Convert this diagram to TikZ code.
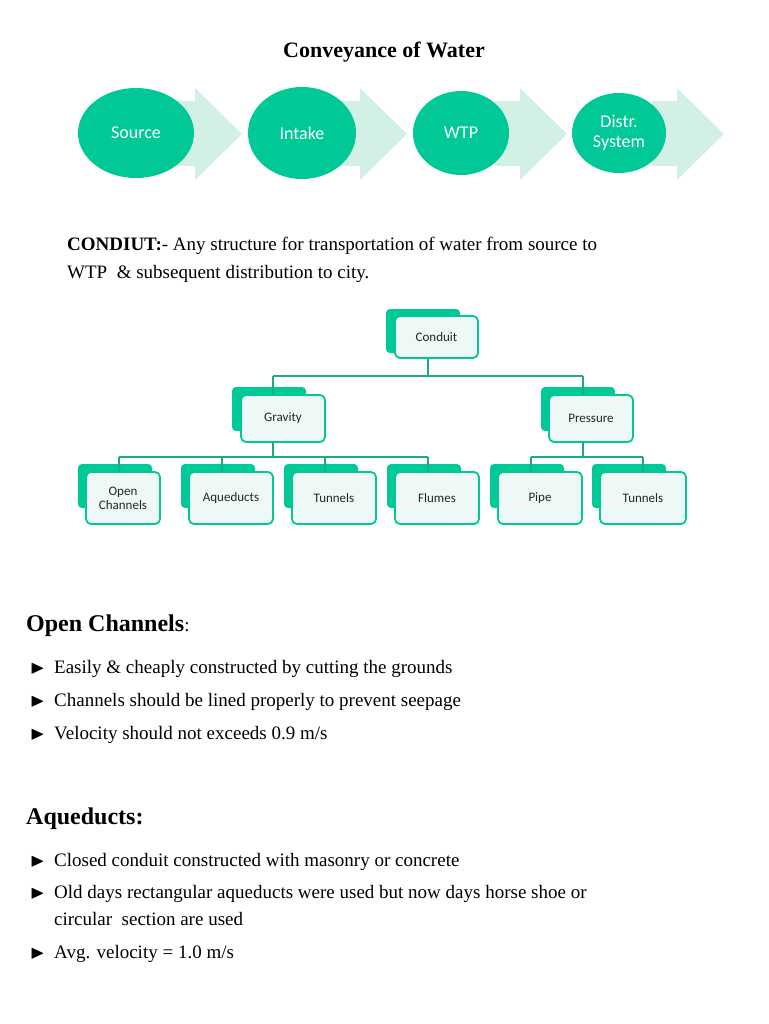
\documentclass[tikz,border=0pt]{standalone}
\usepackage{fontspec}
\setmainfont{Liberation Serif}
\newfontfamily\sans{Carlito}
\usepackage{amssymb}
\usetikzlibrary{shapes.geometric}
\definecolor{tg}{HTML}{00C896}
\definecolor{tl}{HTML}{D2F0E5}
\definecolor{tf}{HTML}{EEF9F5}
\definecolor{tline}{HTML}{20A880}
\begin{document}
\begin{tikzpicture}[x=1pt,y=-1pt,
 circ/.style={ellipse,fill=tg,text=white,font=\sans\fontsize{18}{20}\selectfont,align=center,inner sep=0},
 back/.style={fill=tg,rounded corners=4pt},
 front/.style={fill=tf,draw=tg,line width=1.8pt,rounded corners=5pt,font=\sans\fontsize{13}{14}\selectfont,align=center,text=black!85},
 conn/.style={draw=tline,line width=1.5pt},
 txt/.style={anchor=base west,inner sep=0,font=\fontsize{19}{22}\selectfont},
 hd/.style={anchor=base west,inner sep=0,font=\bfseries\fontsize{24}{26}\selectfont}]
\useasboundingbox (0,0) rectangle (768,1024);
\node[anchor=base,font=\bfseries\fontsize{22}{24}\selectfont] (title) at (384,58) {Conveyance of Water};
% arrows
\foreach \x in {170,335,495,652}{
 \fill[tl] (\x,101) -- (\x+25,101) -- (\x+25,88) -- (\x+72,134) -- (\x+25,180) -- (\x+25,166) -- (\x,166) -- cycle;}
\node[circ,minimum width=116,minimum height=90] (s) at (136,133) {Source};
\node[circ,minimum width=108,minimum height=92] (i) at (302,133) {Intake};
\node[circ,minimum width=96,minimum height=84] (w) at (461,133) {WTP};
\node[circ,minimum width=94,minimum height=80] (d) at (619,133) {Distr.\\System};
\node[txt] (c1) at (67,251) {\textbf{CONDIUT:}- Any structure for transportation of water from source to};
\node[txt] (c2) at (67,278) {WTP\ \ \& subsequent distribution to city.};
% tree
\newcommand\tbox[8]{% name, bx1,by1,bx2,by2, fx1,fy1,fx2,fy2 -> uses #1 text
}
\def\bx#1#2#3#4#5#6#7{\fill[back] (#2,#3) rectangle (#2+74,#3+44);
 \node[front,minimum width=#4,minimum height=#5] (#1) at (#6,#7) {\csname t#1\endcsname};}
\expandafter\def\csname tcon\endcsname{Conduit}
\expandafter\def\csname tgra\endcsname{Gravity}
\expandafter\def\csname tpre\endcsname{Pressure}
\expandafter\def\csname toc\endcsname{Open\\Channels}
\expandafter\def\csname taq\endcsname{Aqueducts}
\expandafter\def\csname ttu\endcsname{Tunnels}
\expandafter\def\csname tfl\endcsname{Flumes}
\expandafter\def\csname tpi\endcsname{Pipe}
\expandafter\def\csname ttv\endcsname{Tunnels}
\bx{con}{386}{309}{83}{42}{436.5}{337}
\bx{gra}{232}{387}{84}{47}{283}{418.5}
\bx{pre}{541}{387}{84}{47}{591}{418.5}
\bx{oc}{78}{464}{74}{52}{123}{498}
\bx{aq}{181}{464}{84}{52}{231}{498}
\bx{tu}{284}{464}{84}{52}{334}{498}
\bx{fl}{387}{464}{84}{52}{437}{498}
\bx{pi}{490}{464}{84}{52}{540}{498}
\bx{tv}{592}{464}{86}{52}{643}{498}
\coordinate (j1) at (428,376);
\draw[conn] (con.south -| j1) -- (j1);
\draw[conn] (273,376) coordinate (ja) -- (583,376) coordinate (jb);
\draw[conn] (ja) -- (ja |- gra.north);
\draw[conn] (jb) -- (jb |- pre.north);
\draw[conn] (273,442) coordinate (g0) -- (273,457);
\draw[conn] (119,457) coordinate (g1) -- (428,457) coordinate (g4);
\draw[conn] (g1) -- (g1 |- oc.north);
\draw[conn] (222,457) -- (222,472);
\draw[conn] (325,457) -- (325,472);
\draw[conn] (g4) -- (g4 |- fl.north);
\draw[conn] (583,442) -- (583,457);
\draw[conn] (531,457) -- (643,457);
\draw[conn] (531,457) -- (531,472);
\draw[conn] (643,457) -- (643,472);
% text
\node[hd] (h1) at (26,631) {Open Channels\textmd{\fontsize{19}{22}\selectfont:}};
\node[txt] at (30,673) {$\blacktriangleright$};
\node[txt] (b1) at (54,673) {Easily \& cheaply constructed by cutting the grounds};
\node[txt] at (30,706) {$\blacktriangleright$};
\node[txt] (b2) at (54,706) {Channels should be lined properly to prevent seepage};
\node[txt] at (30,739) {$\blacktriangleright$};
\node[txt] (b3) at (54,739) {Velocity should not exceeds 0.9 m/s};
\node[hd] (h2) at (26,824) {Aqueducts:};
\node[txt] at (30,866) {$\blacktriangleright$};
\node[txt] (b4) at (54,866) {Closed conduit constructed with masonry or concrete};
\node[txt] at (30,898) {$\blacktriangleright$};
\node[txt] (b5) at (54,898) {Old days rectangular aqueducts were used but now days horse shoe or};
\node[txt] (b6) at (54,925) {circular\ \ section are used};
\node[txt] at (30,958) {$\blacktriangleright$};
\node[txt] (b7) at (54,958) {Avg. velocity = 1.0 m/s};
\end{tikzpicture}
\end{document}
